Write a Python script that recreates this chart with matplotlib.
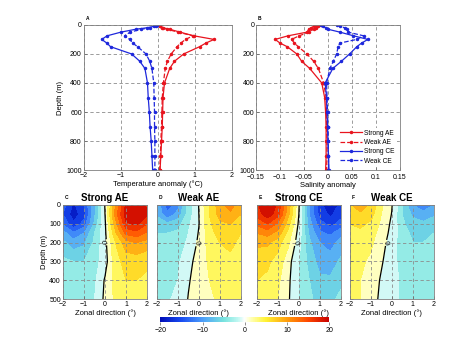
import numpy as np
import matplotlib
matplotlib.use('Agg')
import matplotlib.pyplot as plt
from matplotlib.colors import LinearSegmentedColormap, Normalize
from matplotlib.cm import ScalarMappable

plt.rcParams['font.family'] = ['Liberation Sans', 'DejaVu Sans']

# ---- profile data (panels A, B) ----
depth = [0, 10, 20, 30, 50, 75, 100, 125, 150, 200, 250, 300, 400, 500, 600, 700, 800, 900, 1000]

strong_ae_t = [0.02, 0.05, 0.15, 0.32, 0.6, 0.97, 1.52, 1.3, 1.13, 0.7, 0.45, 0.32, 0.18, 0.14, 0.13, 0.12, 0.1, 0.08, 0.06]
weak_ae_t = [0.03, 0.05, 0.1, 0.25, 0.55, 0.95, 0.75, 0.62, 0.52, 0.36, 0.26, 0.2, 0.15, 0.12, 0.11, 0.1, 0.08, 0.07, 0.05]
strong_ce_t = [-0.02, -0.1, -0.3, -0.6, -1.0, -1.37, -1.52, -1.38, -1.28, -0.71, -0.49, -0.35, -0.28, -0.26, -0.23, -0.21, -0.18, -0.16, -0.14]
weak_ce_t = [-0.02, -0.05, -0.2, -0.45, -0.75, -0.9, -0.76, -0.68, -0.55, -0.32, -0.22, -0.16, -0.11, -0.1, -0.09, -0.09, -0.08, -0.08, -0.08]

strong_ae_s = [-0.025, -0.03, -0.035, -0.04, -0.044, -0.083, -0.11, -0.1, -0.085, -0.065, -0.055, -0.038, -0.013, -0.007, -0.005, -0.004, -0.004, -0.004, -0.005]
weak_ae_s = [-0.015, -0.02, -0.025, -0.03, -0.04, -0.06, -0.076, -0.07, -0.062, -0.044, -0.03, -0.02, -0.009, -0.004, -0.003, -0.003, -0.002, -0.002, -0.003]
strong_ce_s = [-0.015, -0.01, -0.005, 0.0, 0.025, 0.053, 0.083, 0.07, 0.06, 0.045, 0.028, 0.01, -0.006, -0.003, -0.002, -0.001, 0.0, 0.001, 0.002]
weak_ce_s = [0.018, 0.025, 0.035, 0.04, 0.042, 0.074, 0.06, 0.025, 0.021, 0.018, 0.011, 0.004, -0.003, -0.002, -0.001, 0.0, 0.0, 0.001, 0.001]

# ---- section data (panels C-F) ----
zonal = [-2, -1.5, -1, -0.5, 0, 0.5, 1, 1.5, 2]
sec_depth = [0, 50, 100, 150, 200, 300, 400, 500]

strong_ae_sec = [
    [-14, -18, -15, -8, 0.2, 10, 18, 20, 17],
    [-15, -19, -16, -8, 0.0, 11, 19, 20, 18],
    [-13, -17, -14, -7, -0.4, 9, 17, 18, 15],
    [-9, -12, -10, -5, -0.6, 7, 13, 14, 12],
    [-7, -9, -8, -4.5, -0.8, 5, 9, 10, 9],
    [-4.5, -5, -5, -3.5, -1.2, 4, 6, 6, 5.5],
    [-4, -4, -4, -3, 0.3, 3.5, 5, 5, 4.5],
    [-3.5, -3.5, -3.5, -2.5, 0.6, 3, 4.5, 4.5, 4],
]
weak_ae_sec = [
    [-8, -14, -11, -4, 0.1, 5, 9, 11, 8.5],
    [-8, -12, -9, -4, 0.0, 5, 8.5, 9.5, 7.5],
    [-6, -7, -6, -3, -0.1, 4.5, 7, 7.5, 6],
    [-5, -5, -4.5, -2.5, 0.2, 4, 6, 6, 5],
    [-4.5, -4.5, -4, -2, 0.5, 3.5, 5, 5.5, 4.5],
    [-4, -4, -3, -0.6, 0.8, 3, 4.5, 4.5, 3.5],
    [-3.5, -3.5, -2.5, -0.2, 1, 2.5, 3.5, 3.5, 3],
    [-3, -3, -1.5, 0.1, 1, 2, 3, 3, 2.5],
]
strong_ce_sec = [
    [17, 20, 17, 9, 0.3, -10, -17, -19, -17],
    [16, 19, 16, 8, 0.0, -10, -16, -18, -16],
    [13, 15, 12, 6, -0.5, -9, -14, -16, -14],
    [10, 11, 9, 4, -1.0, -8, -12, -13, -11],
    [8, 8, 6, 3, -1.5, -7, -10, -11, -9],
    [6, 5.5, 4, 1, -2.5, -6, -8.5, -9, -7],
    [5, 4.5, 3, 0.5, -2.5, -5, -7, -7, -5.5],
    [4.5, 4, 2.5, 0.3, -2.5, -4.5, -6, -5.5, -4.5],
]
weak_ce_sec = [
    [7, 9, 7, 3, 0.2, -5, -10, -12, -10],
    [6, 7, 6, 2.5, -0.1, -5, -8, -9, -8],
    [5, 5.5, 4.5, 2, -0.5, -4.5, -6.5, -7, -6],
    [4.5, 4.5, 3.5, 1.5, -0.8, -4, -5.5, -5.5, -5],
    [4, 4, 3, 1, -1.2, -4, -5, -5, -4.5],
    [3.5, 3, 2, 0.3, -1.5, -3.5, -4.5, -4.5, -4],
    [3, 2.5, 1.5, -0.3, -1.5, -3, -4, -4, -3.5],
    [3, 2.5, 1, -0.5, -1.5, -3, -3.5, -3.5, -3],
]

sections = [('C', 'Strong AE', strong_ae_sec, -0.15),
            ('D', 'Weak AE', weak_ae_sec, -0.25),
            ('E', 'Strong CE', strong_ce_sec, -0.25),
            ('F', 'Weak CE', weak_ce_sec, -0.37)]

RED = '#e8141e'
BLUE = '#1e28dc'
GRID = dict(color='0.55', linestyle=(0, (4, 3)), linewidth=0.6)

cmap = LinearSegmentedColormap.from_list('bwr_jet', [
    (0.00, (0.0, 0.05, 0.72)),
    (0.125, (0.1, 0.3, 0.95)),
    (0.25, (0.3, 0.62, 0.98)),
    (0.375, (0.47, 0.89, 0.87)),
    (0.46, (0.76, 0.97, 0.95)),
    (0.5, (1.0, 1.0, 1.0)),
    (0.54, (1.0, 1.0, 0.7)),
    (0.625, (1.0, 0.95, 0.2)),
    (0.75, (1.0, 0.62, 0.05)),
    (0.875, (1.0, 0.28, 0.0)),
    (1.00, (0.78, 0.0, 0.0)),
])


def style_axes(ax):
    for s in ax.spines.values():
        s.set_color('0.5')
        s.set_linewidth(0.6)
    ax.tick_params(direction='in', length=2, width=0.5, color='0.4', labelsize=5, pad=1.5)


fig = plt.figure(figsize=(4.74, 3.41), dpi=100)

# panel A
axA = fig.add_axes([0.177, 0.501, 0.312, 0.426])
axA.plot(strong_ae_t, depth, '-', color=RED, marker='.', ms=3, lw=0.9)
axA.plot(weak_ae_t, depth, '--', color=RED, marker='.', ms=3, lw=0.9)
axA.plot(strong_ce_t, depth, '-', color=BLUE, marker='.', ms=3, lw=0.9)
axA.plot(weak_ce_t, depth, '--', color=BLUE, marker='.', ms=3, lw=0.9)
axA.set_xlim(-2, 2)
axA.set_ylim(1000, 0)
axA.set_xticks([-2, -1, 0, 1, 2])
axA.set_yticks(range(0, 1001, 200))
axA.grid(True, **GRID)
axA.set_xlabel('Temperature anomaly (°C)', fontsize=5.5, labelpad=1)
axA.set_ylabel('Depth (m)', fontsize=5.5, labelpad=2)
style_axes(axA)
fig.text(0.181, 0.94, 'A', fontsize=3.5, fontweight='bold')

# panel B
axB = fig.add_axes([0.540, 0.501, 0.304, 0.426])
axB.plot(strong_ae_s, depth, '-', color=RED, marker='.', ms=3, lw=0.9, label='Strong AE')
axB.plot(weak_ae_s, depth, '--', color=RED, marker='.', ms=3, lw=0.9, label='Weak AE')
axB.plot(strong_ce_s, depth, '-', color=BLUE, marker='.', ms=3, lw=0.9, label='Strong CE')
axB.plot(weak_ce_s, depth, '--', color=BLUE, marker='.', ms=3, lw=0.9, label='Weak CE')
axB.set_xlim(-0.15, 0.15)
axB.set_ylim(1000, 0)
axB.set_xticks([-0.15, -0.1, -0.05, 0, 0.05, 0.1, 0.15])
axB.set_xticklabels(['\u22120.15', '\u22120.1', '\u22120.05', '0', '0.05', '0.1', '0.15'])
axB.set_yticks(range(0, 1001, 200))
axB.grid(True, **GRID)
axB.set_xlabel('Salinity anomaly', fontsize=5.5, labelpad=1)
style_axes(axB)
axB.tick_params(axis='x', pad=2.5)
axB.tick_params(axis='y', pad=1)
leg = axB.legend(loc='lower right', fontsize=4.8, frameon=True, handlelength=3.2,
                 handletextpad=0.4, labelspacing=0.35, borderpad=0.3,
                 bbox_to_anchor=(1.0, 0.0))
leg.get_frame().set_edgecolor('none')
leg.get_frame().set_alpha(1.0)
fig.text(0.543, 0.94, 'B', fontsize=3.5, fontweight='bold')

# panels C-F
levels = np.arange(-20, 20.1, 2.5)
lefts = [0.133, 0.331, 0.542, 0.738]
for i, (letter, title, field, lab_x) in enumerate(sections):
    ax = fig.add_axes([lefts[i], 0.123, 0.177, 0.276])
    ax.contourf(zonal, sec_depth, field, levels=levels, cmap=cmap, extend='both')
    cs = ax.contour(zonal, sec_depth, field, levels=[0], colors='k', linewidths=0.9)
    ax.clabel(cs, fmt='%d', fontsize=5.5, manual=[(lab_x, 200)], inline=True,
              inline_spacing=1)
    ax.set_xlim(-2, 2)
    ax.set_ylim(500, 0)
    ax.set_xticks([-2, -1, 0, 1, 2])
    ax.set_yticks(range(0, 501, 100))
    ax.grid(True, **GRID)
    ax.set_title(title, fontsize=7, fontweight='bold', pad=3)
    ax.set_xlabel('Zonal direction (°)', fontsize=5.5, labelpad=1)
    if i == 0:
        ax.set_ylabel('Depth (m)', fontsize=5.5, labelpad=1)
    else:
        ax.set_yticklabels([])
    style_axes(ax)
    fig.text(lefts[i] + 0.004, 0.415, letter, fontsize=3.5, fontweight='bold')

# colorbar
cax = fig.add_axes([0.338, 0.056, 0.357, 0.013])
cb = fig.colorbar(ScalarMappable(norm=Normalize(-20, 20), cmap=cmap), cax=cax,
                  orientation='horizontal', ticks=[-20, -10, 0, 10, 20])
cb.outline.set_visible(False)
cax.tick_params(labelsize=5, length=2, width=0.5, color='0.4', pad=1.5)

fig.savefig('out.png', dpi=100)
